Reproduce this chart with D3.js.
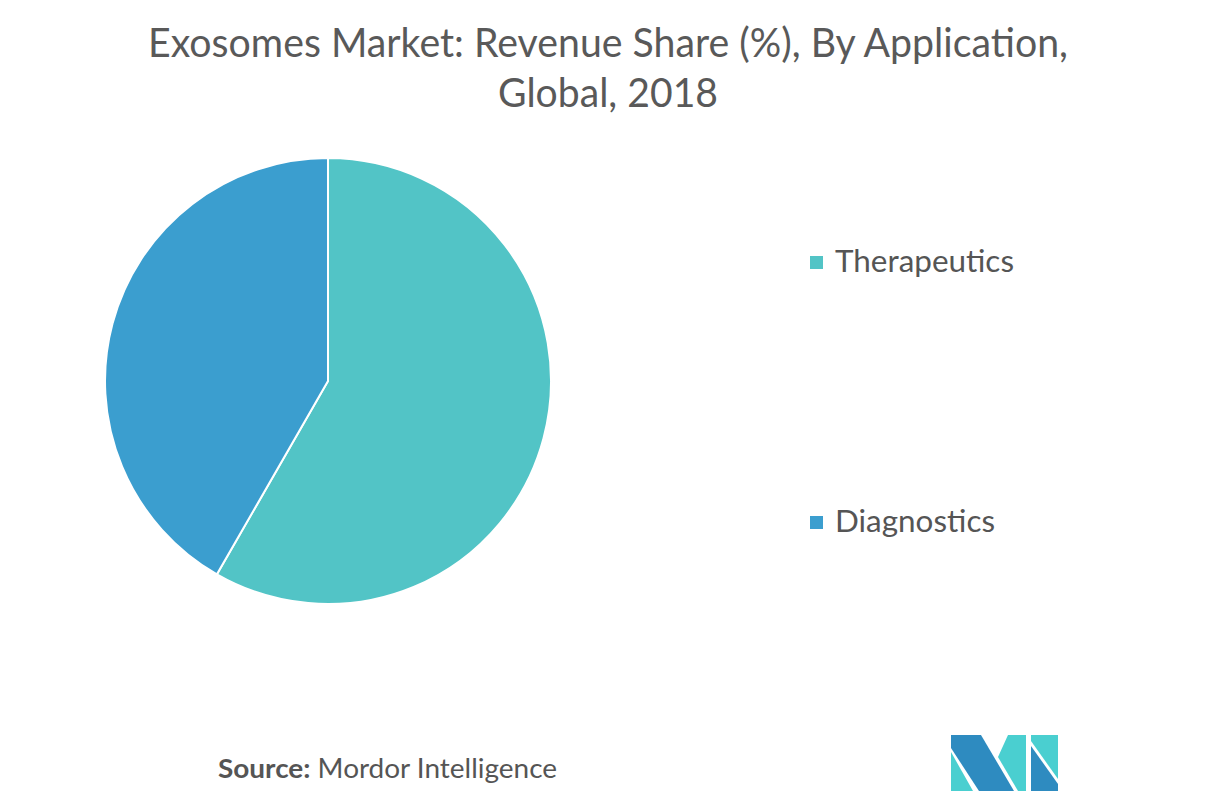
<!DOCTYPE html>
<html>
<head>
<meta charset="utf-8">
<script src="https://cdn.jsdelivr.net/npm/d3@7"></script>
<style>
  body { margin: 0; background: #fff; }
  text { font-family: Lato, "Open Sans", sans-serif; }
</style>
</head>
<body>
<div id="vis"></div>
<script>
// chart values
var categories = ["Therapeutics", "Diagnostics"];
var shares = [58.3, 41.7];
var colors = ["#52c4c6", "#3b9ecf"];
var titleLines = ["Exosomes Market: Revenue Share (%), By Application,", "Global, 2018"];

var width = 1216, height = 804;

var svg = d3.select("#vis").append("svg")
  .attr("width", width)
  .attr("height", height);

// title
var titleWidths = [920, 220];
svg.selectAll(".title")
  .data(titleLines)
  .enter().append("text")
    .attr("class", "title")
    .attr("x", 608)
    .attr("y", function (d, i) { return 57 + i * 50; })
    .attr("text-anchor", "middle")
    .attr("textLength", function (d, i) { return titleWidths[i]; })
    .attr("lengthAdjust", "spacingAndGlyphs")
    .style("font-size", "40px")
    .style("fill", "#595959")
    .text(function (d) { return d; });

// pie
var pie = d3.pie().sort(null).value(function (d) { return d; });
var arc = d3.arc().innerRadius(0).outerRadius(223);

var g = svg.append("g")
  .attr("transform", "translate(328,381)");

g.selectAll("path")
  .data(pie(shares))
  .enter().append("path")
    .attr("d", arc)
    .attr("fill", function (d, i) { return colors[i]; })
    .attr("stroke", "#fff")
    .attr("stroke-width", 2);

// legend
var legendWidths = [179, 160];
var legend = svg.selectAll(".legend")
  .data(categories)
  .enter().append("g")
    .attr("class", "legend")
    .attr("transform", function (d, i) { return "translate(810," + (256 + i * 260) + ")"; });

legend.append("rect")
  .attr("width", 13)
  .attr("height", 13)
  .attr("fill", function (d, i) { return colors[i]; });

legend.append("text")
  .attr("x", 25)
  .attr("y", 16)
  .attr("textLength", function (d, i) { return legendWidths[i]; })
  .attr("lengthAdjust", "spacingAndGlyphs")
  .style("font-size", "30px")
  .style("fill", "#555")
  .text(function (d) { return d; });

// source
var src = svg.append("text")
  .attr("x", 218)
  .attr("y", 778)
  .attr("textLength", 339)
  .attr("lengthAdjust", "spacingAndGlyphs")
  .style("font-size", "26px")
  .style("fill", "#555");
src.append("tspan").style("font-weight", "bold").text("Source:");
src.append("tspan").text(" Mordor Intelligence");

// logo
var logo = svg.append("g");
var logoShapes = [
  {c: "#4acfd0", p: [[951,752],[951,791],[973,791]]},
  {c: "#2e8bc0", p: [[951,735],[981,735],[1014,791],[979,791],[951,748]]},
  {c: "#4acfd0", p: [[1008,735],[1026,735],[1026,791],[1018,791],[998,757]]},
  {c: "#4acfd0", p: [[1031,735],[1058,735],[1058,779],[1031,741]]},
  {c: "#2e8bc0", p: [[1031,746],[1058,784],[1058,791],[1031,791]]}
];
logo.selectAll("polygon")
  .data(logoShapes)
  .enter().append("polygon")
    .attr("points", function (d) { return d.p.join(" "); })
    .attr("fill", function (d) { return d.c; });
</script>
</body>
</html>
